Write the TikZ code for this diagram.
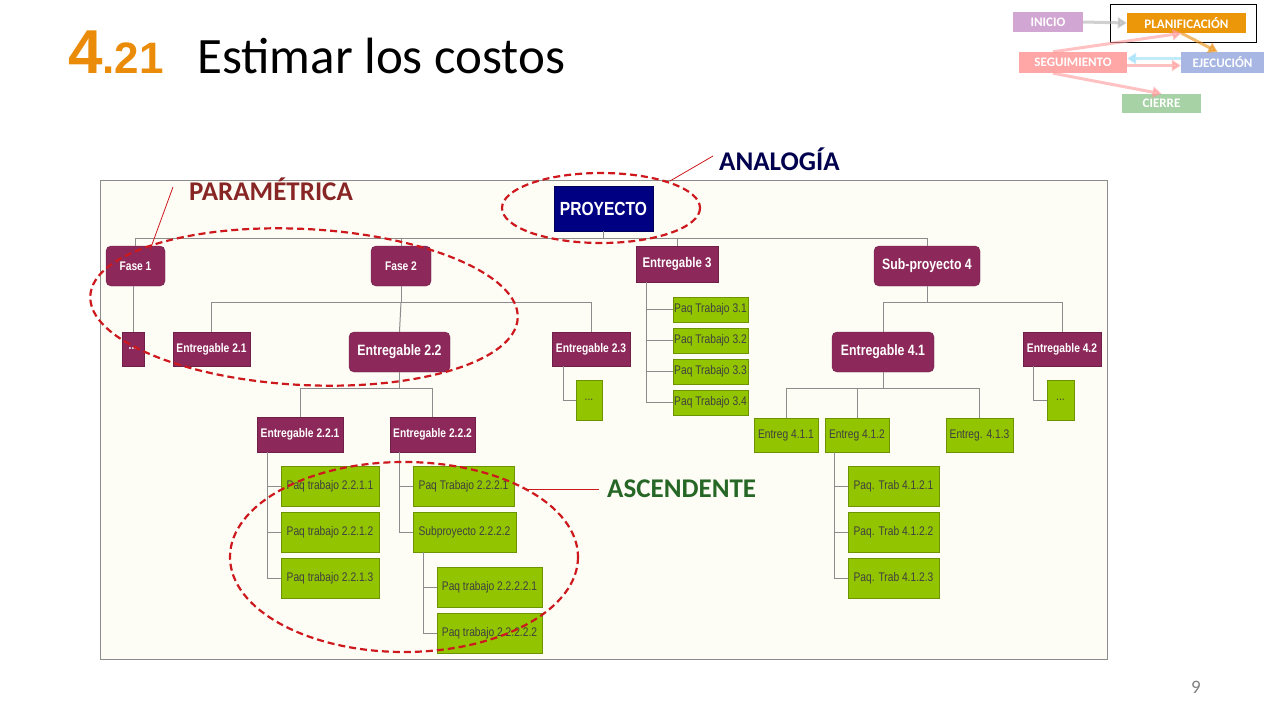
\documentclass[tikz,border=0pt]{standalone}
\usepackage{fontspec}
\setmainfont{Liberation Sans}
\newfontfamily\calfont{Carlito}
\newfontfamily\narrow[FakeStretch=0.82]{Liberation Sans}
\usetikzlibrary{arrows.meta}
\definecolor{wbsp}{RGB}{140,40,90}
\definecolor{wbsg}{RGB}{146,196,0}
\definecolor{navyb}{RGB}{0,0,130}
\definecolor{framebg}{RGB}{253,253,246}
\definecolor{dred}{RGB}{205,25,30}
\definecolor{orng}{RGB}{234,140,10}
\tikzset{
 pbox/.style={fill=wbsp,draw=wbsp!80!black,text=white,font=\narrow\fontsize{12.5}{14}\selectfont\bfseries,inner sep=1pt},
 prnd/.style={pbox,rounded corners=5pt},
 big/.style={font=\narrow\fontsize{15}{16}\selectfont\bfseries},
 gbox/.style={fill=wbsg,draw=wbsg!75!black,text=black!75,font=\narrow\fontsize{12.5}{14}\selectfont,inner sep=1pt},
 conn/.style={draw=black!45,line width=1pt},
 oval/.style={draw=dred,line width=2.2pt,dash pattern=on 7pt off 4pt},
 lbl/.style={font=\calfont\fontsize{27}{29}\selectfont\bfseries,anchor=west,inner sep=0pt},
 mini/.style={font=\calfont\fontsize{13}{14}\selectfont\bfseries,text=white,inner sep=0pt},
 marr/.style={line width=3pt,-{Triangle[length=9pt,width=11pt]},opacity=0.6}
}
\newcommand\bx[7]{\node[#1,minimum width=#5-#3,minimum height=#6-#4] (#2) at ({(#3+#5)/2},{(#4+#6)/2}) {#7};}
\begin{document}
\begin{tikzpicture}[x=1pt,y=-1pt]
\useasboundingbox (0,0) rectangle (1280,720);
\fill[white] (0,0) rectangle (1280,720);
% title
\node[anchor=base west,inner sep=0pt,text=orng,font=\bfseries] (num) at (68,73) {\fontsize{62}{62}\selectfont 4\fontsize{44}{44}\selectfont.21};
\node[anchor=base west,inner sep=0pt,font=\calfont\fontsize{51}{53}\selectfont] (ttl) at (197,73) {Estimar los costos};
\node[text=black!50,font=\calfont\fontsize{19}{20}\selectfont] (pg) at (1196,687) {9};
% frame
\draw[fill=framebg,draw=black!45,line width=1pt] (100,180) rectangle (1107,659);
% boxes
\bx{pbox,fill=navyb,draw=navyb!70!black,font=\narrow\fontsize{19}{20}\selectfont\bfseries}{pry}{554}{186}{653}{231}{PROYECTO}
\bx{prnd}{fase1}{106}{246}{165}{286}{Fase 1}
\bx{prnd}{fase2}{371}{246}{431}{286}{Fase 2}
\bx{pbox,font=\narrow\fontsize{14}{15}\selectfont\bfseries}{e3}{636}{246}{718}{282}{Entregable 3}
\bx{prnd,big}{sp4}{874}{246}{980}{286}{Sub-proyecto 4}
\bx{pbox}{d1}{122}{332}{144}{366}{...}
\bx{pbox}{e21}{173}{332}{250}{366}{Entregable 2.1}
\bx{prnd,big}{e22}{349}{332}{450}{372}{Entregable 2.2}
\bx{pbox}{e23}{552}{332}{630}{366}{Entregable 2.3}
\bx{gbox}{g23}{576}{380}{602}{420}{...}
\bx{pbox}{e221}{257}{417}{343}{452}{Entregable 2.2.1}
\bx{pbox}{e222}{390}{417}{475}{452}{Entregable 2.2.2}
\bx{gbox}{p2211}{281}{466}{379}{506}{Paq trabajo 2.2.1.1}
\bx{gbox}{p2212}{281}{512}{379}{552}{Paq trabajo 2.2.1.2}
\bx{gbox}{p2213}{281}{558}{379}{598}{Paq trabajo 2.2.1.3}
\bx{gbox}{p2221}{413}{466}{514}{506}{Paq Trabajo 2.2.2.1}
\bx{gbox}{s2222}{413}{512}{516}{552}{Subproyecto 2.2.2.2}
\bx{gbox}{p22221}{437}{567}{542}{607}{Paq trabajo 2.2.2.2.1}
\bx{gbox}{p22222}{437}{613}{542}{653}{Paq trabajo 2.2.2.2.2}
\bx{gbox}{p31}{673}{297}{748}{322}{Paq Trabajo 3.1}
\bx{gbox}{p32}{673}{328}{748}{353}{Paq Trabajo 3.2}
\bx{gbox}{p33}{673}{359}{748}{384}{Paq Trabajo 3.3}
\bx{gbox}{p34}{673}{390}{748}{415}{Paq Trabajo 3.4}
\bx{prnd,big}{e41}{832}{332}{934}{372}{Entregable 4.1}
\bx{pbox}{e42}{1023}{332}{1101}{366}{Entregable 4.2}
\bx{gbox}{g42}{1047}{380}{1074}{420}{...}
\bx{gbox}{e411}{754}{418}{818}{452}{Entreg 4.1.1}
\bx{gbox}{e412}{825}{418}{889}{452}{Entreg 4.1.2}
\bx{gbox}{e413}{946}{418}{1013}{452}{Entreg. 4.1.3}
\bx{gbox}{q1}{848}{466}{939}{506}{Paq. Trab 4.1.2.1}
\bx{gbox}{q2}{848}{512}{939}{552}{Paq. Trab 4.1.2.2}
\bx{gbox}{q3}{848}{558}{939}{598}{Paq. Trab 4.1.2.3}
% connectors
\begin{scope}[conn]
\draw (pry.south) -- ++(0,7) coordinate (tb);
\draw (fase1.north) |- (tb) -| (sp4.north);
\draw (fase2.north) -- (fase2.north |- tb);
\draw (e3.north) -- (e3.north |- tb);
\draw (fase1.south -| d1.north) -- (d1.north);
\draw (fase2.south) -- ++(0,16) coordinate (b2);
\draw (e21.north) |- (b2) -| (e23.north);
\draw (b2) -- (e22.north);
\draw ([xshift=-28]e23.south) |- (g23.west);
\draw (e22.south) -- ++(0,16) coordinate (b22);
\draw (e221.north) |- (b22) -| (e222.north);
\draw ([xshift=-33]e221.south) |- (p2211.west);
\draw ([xshift=-33]e221.south) |- (p2212.west);
\draw ([xshift=-33]e221.south) |- (p2213.west);
\draw ([xshift=-33.5]e222.south) |- (p2221.west);
\draw ([xshift=-33.5]e222.south) |- (s2222.west);
\draw ([xshift=-41.5]s2222.south) |- (p22221.west);
\draw ([xshift=-41.5]s2222.south) |- (p22222.west);
\draw ([xshift=-31]e3.south) |- (p31.west);
\draw ([xshift=-31]e3.south) |- (p32.west);
\draw ([xshift=-31]e3.south) |- (p33.west);
\draw ([xshift=-31]e3.south) |- (p34.west);
\draw (sp4.south) -- ++(0,16) coordinate (b4);
\draw (e41.north) |- (b4) -| (e42.north);
\draw ([xshift=-29]e42.south) |- (g42.west);
\draw (e41.south) -- ++(0,16) coordinate (b41);
\draw (e411.north) |- (b41) -| (e413.north);
\draw (e412.north) -- (e412.north |- b41);
\draw ([xshift=-23]e412.south) |- (q1.west);
\draw ([xshift=-23]e412.south) |- (q2.west);
\draw ([xshift=-23]e412.south) |- (q3.west);
\end{scope}
% ovals
\draw[oval] (601,208) ellipse [x radius=99, y radius=35];
\draw[oval,rotate around={-3:(304,307)}] (304,307) ellipse [x radius=214, y radius=78];
\draw[oval] (404,557) ellipse [x radius=174, y radius=95];
% labels
\node[lbl,text=navyb!60!black] (ana) at (719,159) {ANALOGÍA};
\draw[dred,line width=0.8pt] ([xshift=-6,yshift=3]ana.west) -- (670,181);
\node[lbl,text=red!45!black!85] (par) at (189,189) {PARAMÉTRICA};
\draw[dred,line width=0.8pt] ([xshift=-16,yshift=2]par.west) -- (150,250);
\node[lbl,text=green!30!black!85] (asc) at (607,489) {ASCENDENTE};
\draw[dred,line width=0.8pt] ([xshift=-8]asc.west) -- (528,489);
% mini diagram
\draw[black,line width=0.8pt] (1110,4) rectangle (1256,42);
\node[mini,fill=violet!35,minimum width=70,minimum height=20] (ini) at (1048,22) {INICIO};
\node[mini,fill=orng!90!yellow,minimum width=119,minimum height=20] (pla) at (1186.5,23) {PLANIFICACIÓN};
\node[mini,fill=red!35,minimum width=108,minimum height=21] (seg) at (1073,62.5) {SEGUIMIENTO};
\node[mini,fill=cyan!40!blue!35,minimum width=83,minimum height=21] (eje) at (1222.5,62.5) {EJECUCIÓN};
\node[mini,fill=green!50!black!35,minimum width=79,minimum height=19] (cie) at (1161.5,103.5) {CIERRE};
\draw[marr,black!30] (ini.east) -- (pla.west);
\draw[marr,red!40] ([xshift=-20]seg.north) -- ([xshift=-5]pla.south);
\draw[marr,orng] ([xshift=-5]pla.south) -- ([xshift=-5]eje.north);
\draw[marr,red!40] ([yshift=-3]seg.east) -- ([yshift=-3]eje.west);
\draw[marr,cyan!40] ([yshift=4]eje.west) -- ([yshift=4]seg.east);
\draw[marr,red!40] ([xshift=-20]seg.south) -- (cie.north);
\end{tikzpicture}
\end{document}
